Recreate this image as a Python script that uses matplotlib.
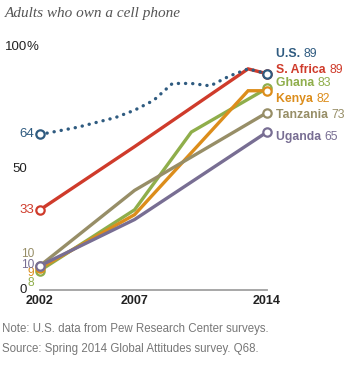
import matplotlib
matplotlib.use('Agg')
import matplotlib.pyplot as plt

# data
us_years = [2002, 2004, 2006, 2007, 2008, 2009, 2010, 2011, 2012, 2013, 2014]
us_vals = [64, 67, 71, 74, 78, 85, 85, 84, 88, 91, 89]

safrica_years = [2002, 2007, 2013, 2014]
safrica_vals = [33, 59, 91, 89]

ghana_years = [2002, 2007, 2010, 2014]
ghana_vals = [8, 33, 65, 83]

kenya_years = [2002, 2007, 2013, 2014]
kenya_vals = [9, 31, 82, 82]

tanzania_years = [2002, 2007, 2014]
tanzania_vals = [10, 41, 73]

uganda_years = [2002, 2007, 2014]
uganda_vals = [10, 29, 65]

names = ['S. Africa', 'Ghana', 'Kenya', 'Tanzania', 'Uganda', 'U.S.']
colors = ['#cf3b2b', '#8fae4b', '#dc8d1b', '#978e67', '#786e93', '#2f5b80']
series = [(safrica_years, safrica_vals), (ghana_years, ghana_vals),
          (kenya_years, kenya_vals), (tanzania_years, tanzania_vals),
          (uganda_years, uganda_vals), (us_years, us_vals)]

# where the end labels sit (data units), nudged apart by hand
label_y = [90.5, 85.2, 78.6, 72.0, 63.0, 97.1]
# where the starting value labels sit
start_label_y = [33, 2.9, 6.8, 14.8, 10.3, 64]

W, H = 360, 367
fig = plt.figure(figsize=(W / 100, H / 100), dpi=100)
fig.patch.set_facecolor('white')

# axes placed so 2002 -> x=40px, 2014 -> x=267px, 0 -> y=290px, 100 -> y=47px
ax = fig.add_axes([40 / W, 1 - 290 / H, 227 / W, 243 / H])
ax.set_xlim(2002, 2014)
ax.set_ylim(0, 100)
ax.axis('off')

ax.plot([2002, 2014], [0, 0], color='#a0a0a0', lw=1.3, clip_on=False, zorder=1)

sans = 'Liberation Sans'

for i, (name, c, (yrs, vals)) in enumerate(zip(names, colors, series)):
    if name == 'U.S.':
        ax.plot(yrs, vals, color=c, lw=2.4, linestyle=(0, (0.05, 2.1)),
                dash_capstyle='round', clip_on=False, zorder=2 + i)
    else:
        ax.plot(yrs, vals, color=c, lw=2.4, solid_joinstyle='miter',
                clip_on=False, zorder=2 + i)
    ax.plot([yrs[0], yrs[-1]], [vals[0], vals[-1]], 'o', ms=6, mfc='white',
            mec=c, mew=1.6, clip_on=False, zorder=10 + i)

    # start value label (the four small ones at 2002 are stacked tight)
    fs = 9.5 if vals[0] > 20 else 8.6
    ax.annotate(str(vals[0]), xy=(yrs[0], start_label_y[i]), xytext=(-4, 0),
                textcoords='offset points', ha='right', va='center',
                color=c, fontsize=fs, family=sans, annotation_clip=False)
    # end label: bold name + value
    t = ax.annotate(name + ' ', xy=(yrs[-1], label_y[i]), xytext=(6.5, 0),
                    textcoords='offset points', ha='left', va='center',
                    color=c, fontsize=8.8, fontweight='bold', family=sans,
                    annotation_clip=False)
    ax.annotate(str(vals[-1]), xycoords=t, xy=(1, 0.5), va='center', ha='left',
                color=c, fontsize=8.8, family=sans, annotation_clip=False)

# y tick labels
for v in [100, 50, 0]:
    ax.annotate(str(v), xy=(2002, v), xytext=(-9.5, 0), textcoords='offset points',
                ha='right', va='center', fontsize=9.5, color='#222222',
                family=sans, annotation_clip=False)
ax.annotate('%', xy=(2002, 100), xytext=(-9.5, 0), textcoords='offset points',
            ha='left', va='center', fontsize=9.5, color='#222222',
            family=sans, annotation_clip=False)

# x tick labels
for yr in [2002, 2007, 2014]:
    ax.annotate(str(yr), xy=(yr, 0), xytext=(0, -8), textcoords='offset points',
                ha='center', va='center', fontsize=9, color='#222222',
                fontweight='bold', family=sans, annotation_clip=False)

fig.text(5 / W, 1 - 13 / H, 'Adults who own a cell phone', ha='left', va='center',
         fontsize=11, style='italic', family='Liberation Serif', color='#555555')

fig.text(2 / W, 1 - 329 / H, 'Note: U.S. data from Pew Research Center surveys.',
         ha='left', va='center', fontsize=8.3, color='#777777', family=sans)
fig.text(2 / W, 1 - 349 / H, 'Source: Spring 2014 Global Attitudes survey. Q68.',
         ha='left', va='center', fontsize=8.3, color='#777777', family=sans)

fig.savefig('out.png', dpi=100, facecolor='white')
